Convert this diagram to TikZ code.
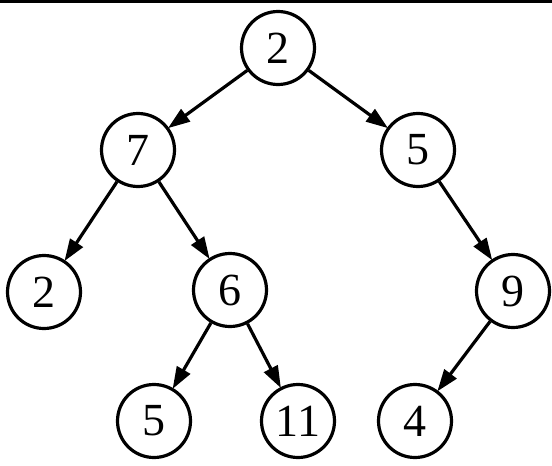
\documentclass[tikz,border=0pt]{standalone}
\usepackage{fontspec}
\setmainfont{Liberation Serif}
\usetikzlibrary{arrows.meta}
\begin{document}
\begin{tikzpicture}[x=1pt,y=-1pt,
  tnode/.style={draw,circle,line width=3.2pt,minimum size=73pt,inner sep=0pt,font=\fontsize{46}{50}\selectfont},
  edge/.style={line width=3.2pt,-{Triangle[length=22pt,width=15pt]},shorten >=-1pt}]
\useasboundingbox (0,0) rectangle (552,466);
\coordinate (tl) at (0,1.5);
\coordinate (tr) at (552,1.5);
\draw[line width=3pt] (tl) -- (tr);
\node[tnode] (r) at (278,48) {2};
\node[tnode] (a) at (138,150) {7};
\node[tnode] (b) at (418,150) {5};
\node[tnode] (c) at (44,292) {2};
\node[tnode] (d) at (230,290) {6};
\node[tnode] (e) at (513,291) {9};
\node[tnode] (f) at (154,421) {5};
\node[tnode] (g) at (298,421) {11};
\node[tnode] (h) at (415,421) {4};
\draw[edge] (r) -- (a);
\draw[edge] (r) -- (b);
\draw[edge] (a) -- (c);
\draw[edge] (a) -- (d);
\draw[edge] (b) -- (e);
\draw[edge] (d) -- (f);
\draw[edge] (d) -- (g);
\draw[edge] (e) -- (h);
\end{tikzpicture}
\end{document}
